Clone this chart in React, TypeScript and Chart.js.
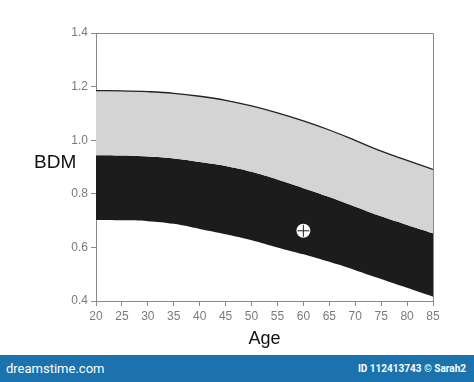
import React, { useEffect, useRef } from "react";
import { Chart, registerables } from "chart.js";

Chart.register(...registerables);

const ages = [20, 25, 30, 35, 40, 45, 50, 55, 60, 65, 70, 75, 80, 85];
const upperLimit = [1.185, 1.184, 1.181, 1.175, 1.164, 1.149, 1.128, 1.102, 1.072, 1.038, 0.999, 0.959, 0.925, 0.891];
const middleLimit = [0.944, 0.943, 0.939, 0.932, 0.919, 0.904, 0.882, 0.853, 0.821, 0.788, 0.752, 0.716, 0.684, 0.653];
const lowerLimit = [0.702, 0.701, 0.698, 0.688, 0.669, 0.649, 0.627, 0.600, 0.574, 0.546, 0.515, 0.482, 0.449, 0.416];
const patientAge = [60];
const patientBDM = [0.662];
const yTicks = [0.4, 0.6, 0.8, 1.0, 1.2, 1.4];
const xTitle = "Age";
const yTitle = "BDM";

const FONT = "'Liberation Sans', Arial, sans-serif";

const toXY = (vals: number[]) => ages.map((a, i) => ({ x: a, y: vals[i] }));

export default function App() {
  const ref = useRef<HTMLCanvasElement | null>(null);

  useEffect(() => {
    document.body.style.margin = "0";
    if (!ref.current) return;
    const titlePlugin = {
      id: "titles",
      afterDraw(chart: any) {
        const { ctx, chartArea } = chart;
        ctx.save();
        ctx.strokeStyle = "#8a8a8a";
        ctx.lineWidth = 1;
        ctx.beginPath();
        ctx.moveTo(chartArea.left, chartArea.top + 0.5);
        ctx.lineTo(chartArea.right + 0.5, chartArea.top + 0.5);
        ctx.lineTo(chartArea.right + 0.5, chartArea.bottom);
        ctx.stroke();
        ctx.fillStyle = "#111";
        ctx.textBaseline = "middle";
        ctx.font = `19px ${FONT}`;
        ctx.textAlign = "left";
        ctx.fillText(yTitle, 34, 163);
        ctx.font = `18px ${FONT}`;
        ctx.textAlign = "center";
        ctx.fillText(xTitle, (chartArea.left + chartArea.right) / 2, 339);
        ctx.restore();
      },
    };

    const curve = { pointRadius: 0, tension: 0.4, cubicInterpolationMode: "default" };

    const chart = new Chart(ref.current, {
      type: "line",
      data: {
        datasets: [
          {
            label: "cross",
            data: patientAge.map((a, i) => ({ x: a, y: patientBDM[i] })),
            pointStyle: "cross",
            pointRadius: 6,
            pointBorderColor: "#222",
            pointBorderWidth: 1,
            showLine: false,
            order: 0,
          } as any,
          {
            label: "patient",
            data: patientAge.map((a, i) => ({ x: a, y: patientBDM[i] })),
            pointStyle: "circle",
            pointRadius: 7,
            pointBackgroundColor: "#ffffff",
            pointBorderColor: "#ffffff",
            pointBorderWidth: 0,
            showLine: false,
            order: 1,
          } as any,
          {
            label: "upper",
            data: toXY(upperLimit),
            borderColor: "#222",
            borderWidth: 1.3,
            backgroundColor: "#d4d4d4",
            fill: "+1",
            ...curve,
            order: 2,
          } as any,
          {
            label: "middle",
            data: toXY(middleLimit),
            borderColor: "#1c1c1c",
            borderWidth: 0,
            backgroundColor: "#1c1c1c",
            fill: "+1",
            ...curve,
            order: 3,
          } as any,
          {
            label: "lower",
            data: toXY(lowerLimit),
            borderColor: "#1c1c1c",
            borderWidth: 0,
            fill: false,
            ...curve,
            order: 4,
          } as any,
        ],
      },
      options: {
        animation: false,
        responsive: false,
        maintainAspectRatio: false,
        layout: { padding: { left: 0, top: 33, right: 41, bottom: 0 } },
        plugins: { legend: { display: false }, tooltip: { enabled: false }, title: { display: false } },
        scales: {
          x: {
            type: "linear",
            min: 20,
            max: 85,
            afterFit: (axis: any) => {
              axis.height = 54;
            },
            ticks: { stepSize: 5, color: "#7a7a7a", font: { family: FONT, size: 12 }, padding: 3, maxRotation: 0 },
            grid: { display: true, drawOnChartArea: false, drawTicks: true, tickLength: 5, color: "#8a8a8a" },
            border: { display: true, color: "#8a8a8a", width: 1 },
          },
          y: {
            type: "linear",
            min: 0.4,
            max: 1.4,
            afterFit: (axis: any) => {
              axis.width = 96;
            },
            afterBuildTicks: (axis: any) => {
              axis.ticks = yTicks.map((v) => ({ value: v }));
            },
            ticks: {
              color: "#7a7a7a",
              font: { family: FONT, size: 12 },
              padding: 3,
              callback: (v: any) => Number(v).toFixed(1),
            },
            grid: { display: true, drawOnChartArea: false, drawTicks: true, tickLength: 5, color: "#8a8a8a" },
            border: { display: true, color: "#8a8a8a", width: 1 },
          },
        },
      } as any,
      plugins: [titlePlugin],
    });
    return () => chart.destroy();
  }, []);

  return (
    <div style={{ position: "absolute", left: 0, top: 0, width: 474, height: 382, background: "#fff", overflow: "hidden" }}>
      <canvas ref={ref} width={474} height={355} style={{ display: "block", width: 474, height: 355 }} />
      <div
        style={{
          position: "absolute",
          left: 0,
          top: 355,
          width: 474,
          height: 27,
          background: "#1b72ad",
          color: "#fff",
          fontFamily: "Roboto, 'Noto Sans', sans-serif",
          display: "flex",
          alignItems: "center",
          justifyContent: "space-between",
          padding: "0 8px 0 6px",
          boxSizing: "border-box",
        }}
      >
        <span style={{ fontSize: 13 }}>dreamstime.com</span>
        <span style={{ fontSize: 10, fontWeight: 700 }}>ID 112413743 © Sarah2</span>
      </div>
    </div>
  );
}
